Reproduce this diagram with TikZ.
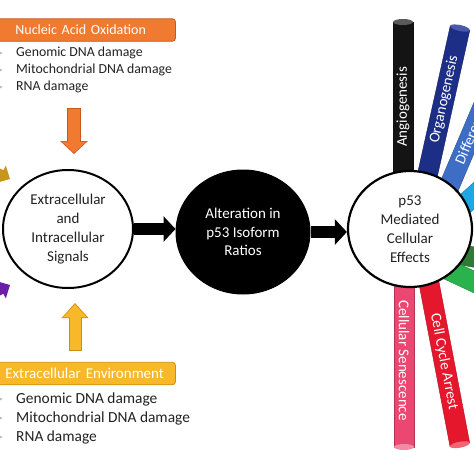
\documentclass[tikz,border=0pt]{standalone}
\usepackage{fontspec}
\setmainfont{Carlito}
\usetikzlibrary{arrows.meta,shapes.geometric}
\definecolor{oxorange}{HTML}{F07A30}
\definecolor{oxorangeD}{HTML}{C65A1C}
\definecolor{envyellow}{HTML}{F8B829}
\definecolor{envyellowD}{HTML}{C98F12}
\definecolor{txtdark}{HTML}{222222}
\definecolor{angioC}{HTML}{141414}
\definecolor{angioK}{HTML}{5A5A5A}
\definecolor{organoC}{HTML}{1C2E86}
\definecolor{organoK}{HTML}{4A5AA8}
\definecolor{differC}{HTML}{3D6DC5}
\definecolor{differK}{HTML}{6E94DA}
\definecolor{cyanC}{HTML}{1EA7E6}
\definecolor{dgreenC}{HTML}{2F7A34}
\definecolor{greenC}{HTML}{2AB24C}
\definecolor{pinkC}{HTML}{EC4771}
\definecolor{pinkK}{HTML}{F48BA6}
\definecolor{redC}{HTML}{E5172C}
\definecolor{redK}{HTML}{F26672}
\definecolor{goldC}{HTML}{C8951E}
\definecolor{purpC}{HTML}{6B1FA8}
\newcommand\effbar[8]{%
  \begin{scope}[shift={#2},rotate=#3]
    \filldraw[fill=#5, draw=#5!75!black, line width=0.4pt] (0,-10) rectangle (#4,10);
    \fill[#6] (#4,0) ellipse [x radius=3, y radius=10];
    \node[bartext,anchor=west] (#1) at (#7,0) {#8};
  \end{scope}}
\begin{document}
\begin{tikzpicture}[x=1pt,y=-1pt,
  bartext/.style={text=white, font=\fontsize{15}{18}\selectfont, inner sep=0pt, transform shape},
  circtext/.style={ellipse, align=center, inner sep=0pt, font=\fontsize{15}{18.8}\selectfont},
  whitecirc/.style={circtext, draw=black, line width=2pt, fill=white, text=txtdark},
  blackcirc/.style={circtext, draw=black, line width=1pt, fill=black, text=white},
  hdrbox/.style={rectangle, rounded corners=3pt, minimum height=22.5pt, align=left,
     text=white, inner ysep=0pt, line width=0.8pt},
  listtext/.style={anchor=west, inner sep=0pt, text=txtdark},
  bulletdot/.style={fill=gray!55},
  blkarrow/.style={draw=black, line width=12pt, -{Triangle[width=25pt,length=12pt]}},
  oarrowO/.style={draw=oxorangeD, line width=14pt, -{Triangle[width=27pt,length=13pt]}},
  oarrowI/.style={draw=oxorange, line width=12pt, -{Triangle[width=24pt,length=11pt]}, shorten >=1.3pt, shorten <=1pt},
  yarrowO/.style={draw=envyellowD, line width=13pt, -{Triangle[width=26pt,length=15pt]}},
  yarrowI/.style={draw=envyellow, line width=11pt, -{Triangle[width=23pt,length=13pt]}, shorten >=1.3pt, shorten <=1pt},
  sidearrow/.style={line width=9pt, -{Triangle[width=19pt,length=10pt]}}
]
\useasboundingbox (0,0) rectangle (474,474);
\clip (0,0) rectangle (474,474);
\fill[white] (0,0) rectangle (474,474);

% effect bars (behind the right circle)
\effbar{angio}{(403,195)}{90}{173}{angioC}{angioK}{48}{Angiogenesis}
\effbar{organo}{(423,195)}{77.5}{171}{organoC}{organoK}{53}{Organogenesis}
\effbar{differ}{(440,208)}{67}{200}{differC}{differK}{48}{Differentiation}
\effbar{cyanb}{(447,220)}{42}{120}{cyanC}{cyanC}{60}{}
\effbar{dgreenb}{(445,252)}{-10}{120}{dgreenC}{dgreenC}{60}{}
\effbar{greenb}{(440,266)}{-25}{120}{greenC}{greenC}{60}{}
\effbar{senes}{(404,262)}{-90}{185}{pinkC}{pinkK}{38}{Cellular Senescence}
\effbar{arrest}{(425,262)}{-79.2}{186}{redC}{redK}{52}{Cell Cycle Arrest}

% circles
\node[whitecirc, minimum width=130pt, minimum height=118pt] (sig) at (68,229)
  {Extracellular\\and\\Intracellular\\Signals};
\node[blackcirc, minimum width=134pt, minimum height=124pt] (alt) at (243,232)
  {Alteration in\\p53 Isoform\\Ratios};
\node[whitecirc, line width=2.2pt, minimum width=124pt, minimum height=116pt] (eff) at (410,229)
  {p53\\Mediated\\Cellular\\Effects};

% black arrows
\draw[blkarrow] (sig.east) -- (sig.east -| alt.west);
\draw[blkarrow] (alt.east) -- (alt.east -| eff.west);

% header boxes
\node[hdrbox, anchor=west, fill=oxorange, draw=oxorangeD, inner xsep=20pt, text width=140pt,
      font=\fontsize{14}{17}\selectfont] (nao) at (-5,30)
  {Nucleic Acid Oxidation};
\node[hdrbox, anchor=west, fill=envyellow, draw=envyellowD, inner xsep=10pt, text width=160pt,
      font=\fontsize{15}{18}\selectfont] (env) at (-5,373.5)
  {Extracellular Environment};

% lists
\begin{scope}[font=\fontsize{13.8}{16}\selectfont]
  \node[listtext] (t1) at (16,53) {Genomic DNA damage};
  \node[listtext] (t2) at (16,70) {Mitochondrial DNA damage};
  \node[listtext] (t3) at (16,87) {RNA damage};
\end{scope}
\begin{scope}[font=\fontsize{15.4}{18}\selectfont]
  \node[listtext] (b1) at (16,399) {Genomic DNA damage};
  \node[listtext] (b2) at (16,418) {Mitochondrial DNA damage};
  \node[listtext] (b3) at (16,437) {RNA damage};
\end{scope}
\foreach \yy in {53,70,87,399,418,437} \fill[bulletdot] (0.8,\yy) circle (1.3);

% orange and yellow arrows
\coordinate (oa0) at (74,108);
\coordinate (oa1) at (74,154);
\draw[oarrowO] (oa0) -- (oa1);
\draw[oarrowI] (oa0) -- (oa1);
\coordinate (ya0) at (75,351);
\coordinate (ya1) at (75,303);
\draw[yarrowO] (ya0) -- (ya1);
\draw[yarrowI] (ya0) -- (ya1);

% side arrows (mostly outside the picture)
\coordinate (ga0) at (-40,152);
\coordinate (ga1) at (10,179);
\draw[sidearrow, draw=goldC] (ga0) -- (ga1);
\coordinate (pa0) at (-40,312);
\coordinate (pa1) at (10,285);
\draw[sidearrow, draw=purpC] (pa0) -- (pa1);
\end{tikzpicture}
\end{document}
